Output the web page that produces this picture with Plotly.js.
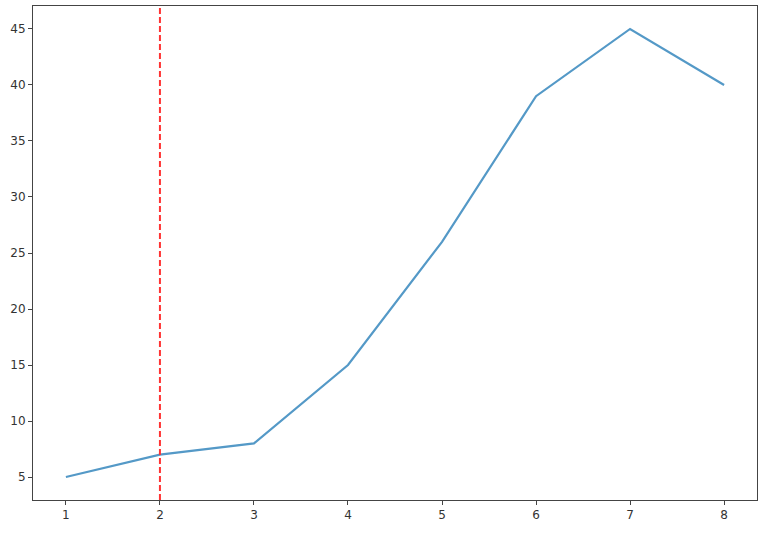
<!DOCTYPE html>
<html><head><meta charset="utf-8">
<script src="https://cdn.plot.ly/plotly-3.0.1.min.js"></script>
<style>html,body{margin:0;padding:0;background:#fff;}#chart{width:768px;height:534px;}</style>
</head><body><div id="chart"></div>
<script>
const xValues = [1, 2, 3, 4, 5, 6, 7, 8];
const yValues = [5, 7, 8, 15, 26, 39, 45, 40];
const markerX = 2;
const xTicks = [1, 2, 3, 4, 5, 6, 7, 8];
const yTicks = [5, 10, 15, 20, 25, 30, 35, 40, 45];

const traces = [
  {x: xValues, y: yValues, type: 'scatter', mode: 'lines',
   line: {color: '#5499c7', width: 2.2}, hoverinfo: 'x+y'}
];
const layout = {
  width: 768, height: 534,
  margin: {l: 33, r: 11, t: 6, b: 34},
  paper_bgcolor: '#fff', plot_bgcolor: '#fff',
  showlegend: false,
  font: {family: 'DejaVu Sans', size: 12, color: '#333'},
  xaxis: {range: [0.65, 8.35], tickvals: xTicks, ticks: 'outside', ticklen: 4, tickcolor: '#444',
          showgrid: false, zeroline: false, showline: true, mirror: true, linecolor: '#444', linewidth: 1},
  yaxis: {range: [2.95, 47.05], tickvals: yTicks, ticks: 'outside', ticklen: 4, tickcolor: '#444',
          showgrid: false, zeroline: false, showline: true, mirror: true, linecolor: '#444', linewidth: 1},
  shapes: [{type: 'line', xref: 'x', yref: 'paper', x0: markerX, x1: markerX, y0: 0, y1: 1,
            line: {color: '#ff3333', width: 2, dash: '6px,3px'}}]
};
Plotly.newPlot('chart', traces, layout, {displayModeBar: false, staticPlot: true});
</script></body></html>
